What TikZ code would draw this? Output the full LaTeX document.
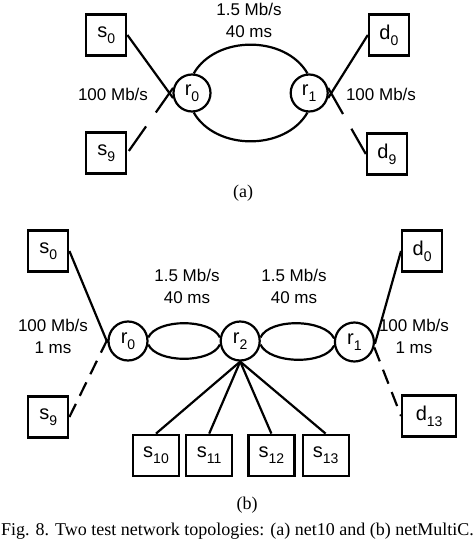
\documentclass[tikz,border=0pt]{standalone}
\usepackage{fontspec}
\setmainfont{Liberation Sans}
\newfontfamily\capfont{Liberation Serif}
\usetikzlibrary{positioning}
\newcommand{\sub}[1]{\raisebox{-6pt}{\fontsize{14}{14}\selectfont #1}}
\tikzset{
  host/.style={draw, line width=2.2pt, minimum width=40pt, minimum height=41pt, inner sep=2pt, font=\fontsize{20}{24}\selectfont},
  router/.style={draw, circle, line width=2.2pt, fill=white, minimum size=37pt, inner sep=0pt, font=\fontsize{20}{24}\selectfont},
  link/.style={line width=2.2pt},
  longdash/.style={link, dash pattern=on 30pt off 17pt},
  shortdash/.style={link, dash pattern=on 15pt off 9pt},
  rate/.style={inner sep=0pt, align=center, font=\fontsize{17}{22}\selectfont},
  subcap/.style={inner sep=0pt, font=\capfont\fontsize{18}{20}\selectfont},
}
\begin{document}
\begin{tikzpicture}[x=1pt, y=-1pt]
  \useasboundingbox (0,0) rectangle (474,540);

  % (a) net10
  \node[router] (r0a) at (192,93) {r\sub{0}};
  \node[router, right=78pt of r0a] (r1a) {r\sub{1}};
  \node[host, left=45pt of r0a, yshift=58pt] (s0a) {s\sub{0}};
  \node[host, left=45pt of r0a, yshift=-60pt] (s9a) {s\sub{9}};
  \node[host, right=39pt of r1a, yshift=58pt] (d0a) {d\sub{0}};
  \node[host, right=37pt of r1a, yshift=-61pt] (d9a) {d\sub{9}};

  \draw[link] (r0a.85) to[out=60, in=120] (r1a.95);
  \draw[link] (r0a.-85) to[out=-60, in=-120] (r1a.-95);
  \draw[link] (s0a.east) -- (r0a.195);
  \draw[longdash] (r0a.165) -- (s9a.east);
  \draw[link] (d0a.west) -- (r1a.-15);
  \draw[longdash] (r1a.15) -- (d9a.west);

  \node[rate] (bwa) at (249,20) {1.5 Mb/s\\40 ms};
  \node[rate] (inla) at (113,94) {100 Mb/s};
  \node[rate] (inra) at (381,94) {100 Mb/s};
  \node[subcap] (capa) at (243,193) {(a)};

  % (b) netMultiC
  \node[router, minimum size=39pt] (r0b) at (128,341) {r\sub{0}};
  \node[router, minimum size=39pt, right=71pt of r0b] (r2b) {r\sub{2}};
  \node[router, minimum size=39pt, right=73pt of r2b, yshift=-1pt] (r1b) {r\sub{1}};
  \node[host, left=38pt of r0b, yshift=90pt] (s0b) {s\sub{0}};
  \node[host, left=38pt of r0b, yshift=-76pt] (s9b) {s\sub{9}};
  \node[host, right=26pt of r1b, yshift=91pt] (d0b) {d\sub{0}};
  \node[host, minimum width=54pt, right=26pt of r1b, yshift=-74pt] (d13b) {d\sub{13}};
  \node[host, minimum width=46pt, below=72pt of r2b, xshift=-31pt] (s11b) {s\sub{11}};
  \node[host, minimum width=46pt, left=5pt of s11b] (s10b) {s\sub{10}};
  \node[host, minimum width=46pt, right=14pt of s11b] (s12b) {s\sub{12}};
  \node[host, minimum width=46pt, right=6pt of s12b] (s13b) {s\sub{13}};

  \draw[link] (r0b.10) to[out=65, in=115, looseness=0.75] (r2b.170);
  \draw[link] (r0b.-10) to[out=-65, in=-115, looseness=0.75] (r2b.-170);
  \draw[link] (r2b.10) to[out=65, in=115, looseness=0.75] (r1b.170);
  \draw[link] (r2b.-10) to[out=-65, in=-115, looseness=0.75] (r1b.-170);
  \draw[link] (s0b.east) -- (r0b.185);
  \draw[shortdash] (r0b.175) -- (s9b.east);
  \draw[link] (d0b.west) -- (r1b.-5);
  \draw[shortdash] (r1b.-15) -- (d13b.west);
  \foreach \h in {s10b,s11b,s12b,s13b}
    \draw[link] (r2b.south) -- (\h.north);

  \node[rate] (bwlb) at (187,286) {1.5 Mb/s\\40 ms};
  \node[rate] (bwrb) at (294,286) {1.5 Mb/s\\40 ms};
  \node[rate] (inlb) at (53,336) {100 Mb/s\\1 ms};
  \node[rate] (inrb) at (414,336) {100 Mb/s\\1 ms};
  \node[subcap] (capb) at (247,505) {(b)};

  \node[subcap, anchor=west] (fig) at (1,531) {Fig. 8. Two test network topologies: (a) net10 and (b) netMultiC.};
\end{tikzpicture}
\end{document}
